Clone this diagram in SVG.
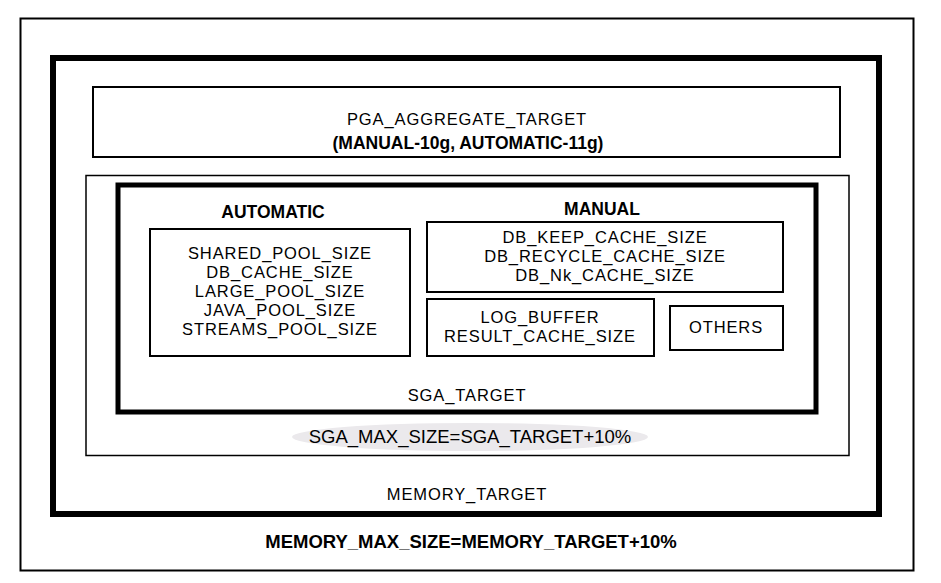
<svg xmlns="http://www.w3.org/2000/svg" width="941" height="583" viewBox="0 0 941 583">
<style>
.b{fill:none;stroke:#000}
.t{font-family:"Liberation Sans",Arial,sans-serif;font-size:16.5px;text-anchor:middle;fill:#000;letter-spacing:0.9px}
.h{font-family:"Liberation Sans",Arial,sans-serif;font-size:17.5px;font-weight:bold;text-anchor:middle;fill:#000}
.s{font-family:"Liberation Sans",Arial,sans-serif;font-size:18.5px;text-anchor:middle;fill:#000}
</style>
<rect width="941" height="583" fill="#fff"/>
<g id="outer"><rect class="b" x="20.5" y="18.5" width="893" height="552" stroke-width="2"/>
<text class="s" x="471" y="548" font-weight="bold" font-size="17.5">MEMORY_MAX_SIZE=MEMORY_TARGET+10%</text></g>
<g id="memory_target"><rect class="b" x="53" y="58" width="826" height="456" stroke-width="6"/>
<text class="t" x="467" y="500">MEMORY_TARGET</text></g>
<g id="pga"><rect class="b" x="93" y="87" width="747" height="70" stroke-width="2"/>
<text class="t" x="467" y="125">PGA_AGGREGATE_TARGET</text>
<text class="h" x="468" y="149" font-size="18">(MANUAL-10g, AUTOMATIC-11g)</text></g>
<g id="sga_max"><rect class="b" x="86" y="175.5" width="763" height="280" stroke-width="1.5"/>
<ellipse cx="470" cy="437" rx="178" ry="14" fill="#ebe9ec"/>
<text class="s" x="470" y="443">SGA_MAX_SIZE=SGA_TARGET+10%</text></g>
<g id="sga_target"><rect class="b" x="118" y="185" width="698" height="227" stroke-width="5"/>
<text class="t" x="467" y="401">SGA_TARGET</text>
<text class="h" x="273" y="218">AUTOMATIC</text>
<text class="h" x="602" y="215">MANUAL</text></g>
<g id="automatic"><rect class="b" x="150" y="229" width="260" height="127" stroke-width="2"/>
<text class="t" x="280" y="259">SHARED_POOL_SIZE</text>
<text class="t" x="280" y="278">DB_CACHE_SIZE</text>
<text class="t" x="280" y="297">LARGE_POOL_SIZE</text>
<text class="t" x="280" y="316">JAVA_POOL_SIZE</text>
<text class="t" x="280" y="335">STREAMS_POOL_SIZE</text></g>
<g id="manual_cache"><rect class="b" x="427" y="222" width="356" height="70" stroke-width="2"/>
<text class="t" x="605" y="243">DB_KEEP_CACHE_SIZE</text>
<text class="t" x="605" y="262">DB_RECYCLE_CACHE_SIZE</text>
<text class="t" x="605" y="281">DB_Nk_CACHE_SIZE</text></g>
<g id="log"><rect class="b" x="427" y="299" width="227" height="57" stroke-width="2"/>
<text class="t" x="540" y="323">LOG_BUFFER</text>
<text class="t" x="540" y="342">RESULT_CACHE_SIZE</text></g>
<g id="others"><rect class="b" x="670" y="306" width="113" height="44" stroke-width="2"/>
<text class="t" x="726" y="333">OTHERS</text></g>
<g id="connectors"/>
</svg>
